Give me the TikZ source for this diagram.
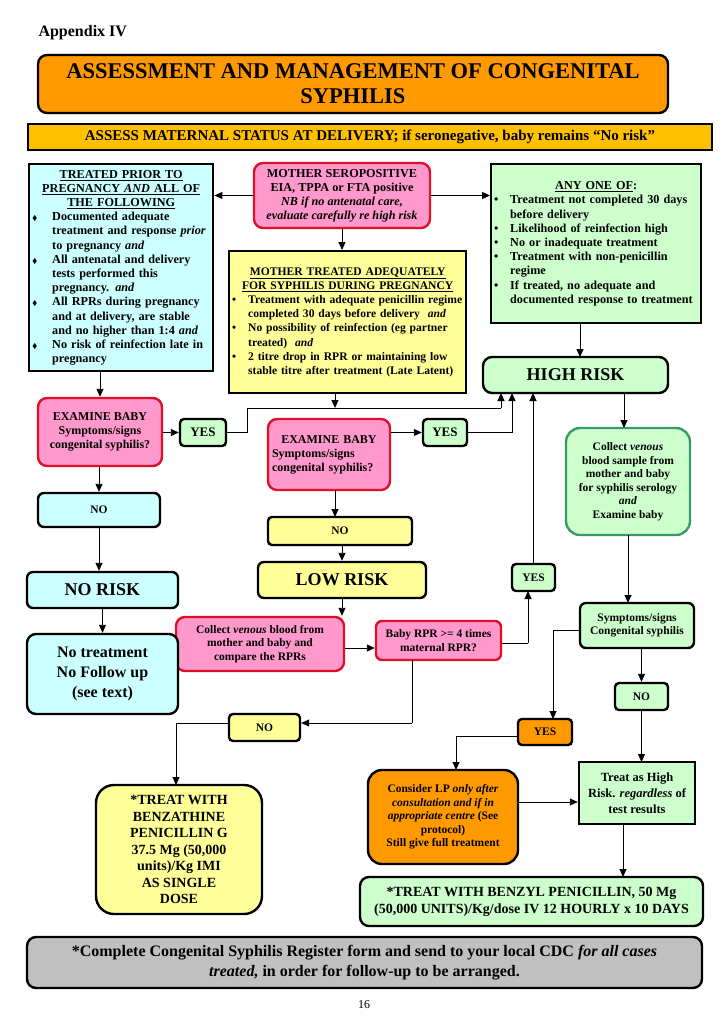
\documentclass[tikz,border=0pt]{standalone}
\usepackage{fontspec}
\usepackage{amssymb}
\setmainfont{Liberation Serif}
\usetikzlibrary{arrows.meta}
\definecolor{cyanbox}{HTML}{CCFFFF}
\definecolor{pinkbox}{HTML}{FF99CC}
\definecolor{pinkline}{HTML}{E0102A}
\definecolor{yellowbox}{HTML}{FFFF99}
\definecolor{greenbox}{HTML}{CCFFCC}
\definecolor{greenline}{HTML}{3C9A6A}
\definecolor{orangebox}{HTML}{FF9900}
\definecolor{goldbox}{HTML}{FFC000}
\definecolor{greybox}{HTML}{C0C0C0}
\newcommand{\itm}[1]{\hangindent=16pt\hangafter=1\noindent\makebox[16pt][l]{\textbullet}#1\par}
\newcommand{\dia}[1]{\hangindent=20pt\hangafter=1\noindent\makebox[20pt][l]{\scriptsize$\blacklozenge$}#1\par}
\newcommand{\nohy}{\hyphenpenalty=10000\exhyphenpenalty=10000\raggedright}
\tikzset{
  box/.style={draw=black,line width=2.4pt,inner sep=3pt,align=center,font=\bfseries\fontsize{11.5}{13.5}\selectfont},
  rbox/.style={box,rounded corners=9pt},
  lst/.style={box,align=left,anchor=north west,inner sep=2pt,font=\bfseries\fontsize{12.2}{14.2}\selectfont},
  arr/.style={-{Triangle[length=8pt,width=7pt]},line width=0.9pt},
  ln/.style={line width=0.9pt},
}
\begin{document}
\begin{tikzpicture}[x=1pt,y=1pt]
\useasboundingbox (0,0) rectangle (728,-1031);
\node[anchor=west,font=\bfseries\fontsize{16}{18}\selectfont] (app) at (35,-33) {Appendix IV};
\node[rbox,fill=orangebox,minimum width=630,minimum height=58,font=\bfseries\fontsize{22.5}{25}\selectfont] (title) at (353,-84) {ASSESSMENT AND MANAGEMENT OF CONGENITAL\\SYPHILIS};
\node[box,fill=goldbox,minimum width=684,minimum height=26,font=\bfseries\fontsize{15}{17}\selectfont] (assess) at (370,-137) {ASSESS MATERNAL STATUS AT DELIVERY; if seronegative, baby remains ``No risk''};
% top row
\node[lst,fill=cyanbox,minimum width=184,minimum height=207,text width=178] (prior) at (28,-163) {{\centering\underline{TREATED PRIOR TO}\\\underline{PREGNANCY \textit{AND} ALL OF}\\\underline{THE FOLLOWING}\par}\nohy
\dia{Documented adequate treatment and response \textit{prior} to pregnancy \textit{and}}
\dia{All antenatal and delivery tests performed this pregnancy. \textit{and}}
\dia{All RPRs during pregnancy and at delivery, are stable and no higher than 1:4 \textit{and}}
\dia{No risk of reinfection late in pregnancy}};
\node[rbox,fill=pinkbox,draw=pinkline,minimum width=176,minimum height=65,font=\bfseries\fontsize{12.2}{14}\selectfont] (sero) at (342,-195.5) {MOTHER SEROPOSITIVE\\EIA, TPPA or FTA positive\\\textit{NB if no antenatal care,}\\\textit{evaluate carefully re high risk}};
\node[lst,fill=greenbox,minimum width=210,minimum height=159,text width=204] (anyone) at (490,-163) {{\centering\underline{ANY ONE OF}:\par}\nohy
\itm{Treatment not completed 30 days before delivery}
\itm{Likelihood of reinfection high}
\itm{No or inadequate treatment}
\itm{Treatment with non-penicillin regime}
\itm{If treated, no adequate and documented response to treatment}};
\node[lst,fill=yellowbox,minimum width=237,minimum height=142,text width=231,font=\bfseries\fontsize{11.6}{14.2}\selectfont] (adequate) at (228,-250) {{\centering\underline{MOTHER TREATED ADEQUATELY}\\\underline{FOR SYPHILIS DURING PREGNANCY}\par}\nohy
\itm{Treatment with adequate penicillin regime completed 30 days before delivery\ \ \textit{and}}
\itm{No possibility of reinfection (eg partner treated)\ \ \textit{and}}
\itm{2 titre drop in RPR or maintaining low stable titre after treatment (Late Latent)}};
\node[rbox,fill=greenbox,minimum width=185,minimum height=36,font=\bfseries\fontsize{18}{20}\selectfont] (high) at (575.5,-375) {HIGH RISK};
% examine baby
\node[rbox,fill=pinkbox,draw=pinkline,minimum width=124,minimum height=68,font=\bfseries\fontsize{12}{14}\selectfont] (examL) at (100,-432) {EXAMINE BABY\\Symptoms/signs\\congenital syphilis?};
\node[rbox,fill=greenbox,minimum width=46,minimum height=27,font=\bfseries\fontsize{13}{15}\selectfont,rounded corners=4pt] (yesL) at (203,-432.5) {YES};
\node[rbox,fill=pinkbox,draw=pinkline,minimum width=122,minimum height=71,text width=114,align=left,font=\bfseries\fontsize{12}{14}\selectfont] (examM) at (329,-454.5) {{\centering EXAMINE BABY\par}\raggedright Symptoms/signs\\congenital syphilis?\\[10pt]};
\node[rbox,fill=greenbox,minimum width=44,minimum height=27,font=\bfseries\fontsize{13}{15}\selectfont,rounded corners=4pt] (yesM) at (445,-432.5) {YES};
\node[rbox,draw=greenline,fill=greenbox,minimum width=124,minimum height=107,rounded corners=14pt] (venousG) at (628,-481.5) {Collect \textit{venous}\\blood sample from\\mother and baby\\for syphilis serology\\\textit{and}\\Examine baby};
% no / risk
\node[rbox,fill=cyanbox,minimum width=122,minimum height=34,rounded corners=6pt] (noL) at (99,-510) {NO};
\node[rbox,fill=yellowbox,minimum width=144,minimum height=28,rounded corners=4pt] (noM) at (340,-531) {NO};
\node[rbox,fill=cyanbox,minimum width=151,minimum height=36,font=\bfseries\fontsize{18}{20}\selectfont,rounded corners=6pt] (norisk) at (102.5,-590) {NO RISK};
\node[rbox,fill=yellowbox,minimum width=168,minimum height=36,font=\bfseries\fontsize{18}{20}\selectfont,rounded corners=6pt] (low) at (342,-580) {LOW RISK};
\node[rbox,fill=greenbox,minimum width=43,minimum height=27,rounded corners=4pt] (yesS) at (533.5,-577.5) {YES};
\node[rbox,fill=pinkbox,draw=pinkline,minimum width=168,minimum height=54] (venousP) at (260,-644) {Collect \textit{venous} blood from\\mother and baby and\\compare the RPRs};
\node[rbox,fill=pinkbox,draw=pinkline,minimum width=125,minimum height=39,rounded corners=6pt] (rpr) at (438.5,-640.5) {Baby RPR >= 4 times\\maternal RPR?};
\node[rbox,fill=greenbox,minimum width=114,minimum height=45,rounded corners=6pt] (symp) at (637,-625.5) {Symptoms/signs\\Congenital syphilis};
\node[rbox,fill=cyanbox,minimum width=151,minimum height=80,font=\bfseries\fontsize{16}{20}\selectfont] (notreat) at (102.5,-674) {No treatment\\No Follow up\\(see text)};
\node[rbox,fill=greenbox,minimum width=53,minimum height=27,rounded corners=4pt] (noR) at (641.5,-696.5) {NO};
\node[rbox,fill=yellowbox,minimum width=71,minimum height=27,rounded corners=4pt] (noB) at (264.5,-727.5) {NO};
\node[rbox,fill=orangebox,minimum width=54,minimum height=26,rounded corners=4pt] (yesO) at (545,-732) {YES};
% treatments
\node[rbox,fill=yellowbox,minimum width=166,minimum height=129,font=\bfseries\fontsize{14}{16.5}\selectfont,rounded corners=18pt] (benzath) at (179,-849.5) {*TREAT WITH\\BENZATHINE\\PENICILLIN G\\37.5 Mg (50,000\\units)/Kg IMI\\AS SINGLE\\DOSE};
\node[rbox,fill=orangebox,minimum width=150,minimum height=94,rounded corners=14pt] (lp) at (443,-817) {Consider LP \textit{only after}\\\textit{consultation and if in}\\\textit{appropriate centre} (See\\protocol)\\Still give full treatment};
\node[box,fill=greenbox,minimum width=116,minimum height=62,font=\bfseries\fontsize{12.5}{16}\selectfont] (treathigh) at (637,-793) {Treat as High\\Risk. \textit{regardless} of\\test results};
\node[rbox,fill=greenbox,minimum width=343,minimum height=49,font=\bfseries\fontsize{14}{17}\selectfont] (benzyl) at (531.5,-901.5) {*TREAT WITH BENZYL PENICILLIN, 50 Mg\\(50,000 UNITS)/Kg/dose IV 12 HOURLY x 10 DAYS};
\node[rbox,fill=greybox,minimum width=675,minimum height=51,font=\bfseries\fontsize{16}{20}\selectfont] (register) at (364.5,-962.5) {*Complete Congenital Syphilis Register form and send to your local CDC \textit{for all cases}\\\textit{treated,} in order for follow-up to be arranged.};
\node[font=\fontsize{12}{14}\selectfont] (page) at (364,-1005) {16};
% connectors
\coordinate (j1) at (247,-408);
\draw[arr] (sero.west) -- (prior.east |- sero.west);
\draw[arr] (sero.east) -- (anyone.west |- sero.east);
\draw[arr] (sero.south) -- (sero.south |- adequate.north);
\draw[arr] (prior.south -| examL.north) -- (examL.north);
\draw[arr] (anyone.south -| 580,0) -- (580,-357);
\draw[arr] (examL.east |- yesL.west) -- (yesL.west);
\draw[ln] (yesL.east) -- (j1 |- yesL.east) -- (j1) -- (501,-408);
\draw[arr] (501,-408) -- (501,-393);
\draw[arr] (335,-392) -- (335,-408);
\draw[arr] (examM.east |- yesM.west) -- (yesM.west);
\draw[ln] (yesM.east) -- (512,-432.5);
\draw[arr] (512,-432.5) -- (512,-393);
\draw[arr] (yesS.north -| 533,0) -- (533,-393);
\draw[arr] (624,-393) -- (624,-428);
\draw[arr] (335,-490) -- (335,-517);
\draw[arr] (examL.south -| noL.north) -- (noL.north);
\draw[arr] (noL.south) -- (norisk.north -| noL.south);
\draw[arr] (norisk.south) -- (notreat.north);
\draw[arr] (noM.south -| low.north) -- (low.north);
\draw[arr] (low.south) -- (low.south |- venousP.north);
\draw[arr] (venousP.east |- 0,-648) -- (rpr.west |- 0,-648);
\draw[ln] (rpr.east |- 0,-643) -- (528,-643);
\draw[arr] (528,-643) -- (528,-591);
\draw[ln] (412,-660) -- (412,-723);
\draw[arr] (412,-723) -- (noB.east |- 0,-723);
\draw[ln] (noB.west |- 0,-723) -- (176,-723);
\draw[arr] (176,-723) -- (176,-785);
\draw[arr] (628,-535) -- (628,-603);
\draw[ln] (symp.west |- 0,-630) -- (553,-630);
\draw[arr] (553,-630) -- (553,-719);
\draw[arr] (641.5,-648) -- (noR.north);
\draw[arr] (noR.south) -- (641.5,-762);
\draw[ln] (yesO.west |- 0,-736) -- (456,-736);
\draw[arr] (456,-736) -- (456,-770);
\draw[arr] (lp.east |- 0,-802) -- (treathigh.west |- 0,-802);
\draw[arr] (623,-824) -- (623,-877);
\end{tikzpicture}
\end{document}
